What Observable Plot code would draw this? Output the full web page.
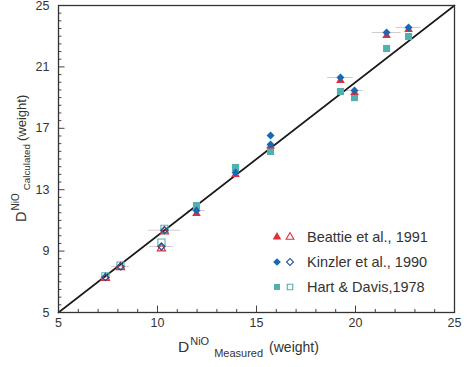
<!DOCTYPE html>
<html><head><meta charset="utf-8">
<script src="https://cdn.jsdelivr.net/npm/d3@7"></script>
<script src="https://cdn.jsdelivr.net/npm/@observablehq/plot@0.6"></script>
<style>
body{margin:0;background:#fff;font-family:"Liberation Sans",Arial,Helvetica,sans-serif}
#chart svg{display:block}
</style>
</head><body><div id="chart"></div>
<script>
// ---- Data ----
const beattieX = [7.37, 8.13, 10.35, 10.2, 11.97, 13.94, 15.71, 19.24, 19.95, 21.57, 22.68];
const beattieY = [7.25, 7.95, 10.28, 9.17, 11.45, 13.99, 15.85, 20.11, 19.33, 23.05, 23.44];
const beattieOpen = [true, true, true, true, false, false, false, false, false, false, false];

const kinzlerX = [7.37, 8.13, 10.35, 10.2, 11.97, 13.94, 15.71, 15.71, 19.24, 19.95, 21.57, 22.68];
const kinzlerY = [7.3, 8.0, 10.36, 9.3, 11.64, 14.12, 16.53, 15.94, 20.31, 19.46, 23.24, 23.57];
const kinzlerOpen = [true, true, true, true, false, false, false, false, false, false, false, false];

const hartX = [7.37, 8.13, 10.35, 10.2, 11.97, 13.94, 15.71, 19.24, 19.95, 21.57, 22.68];
const hartY = [7.36, 8.06, 10.45, 9.56, 11.97, 14.45, 15.49, 19.4, 19.0, 22.2, 22.98];
const hartOpen = [true, true, true, true, false, false, false, false, false, false, false];

// horizontal error bars on measured values
const errX = [7.37, 8.13, 10.35, 10.2, 11.97, 19.24, 19.95, 21.57, 22.68];
const errY = [7.3, 8.0, 10.36, 9.3, 11.64, 20.31, 19.46, 23.24, 23.57];
const errHalf = [0.25, 0.45, 0.8, 0.6, 0.45, 0.65, 0.45, 0.73, 0.63];

const oneToOne = [5, 25];
const xLabelTicks = [5, 10, 15, 20, 25];
const yLabelTicks = [5, 9, 13, 17, 21, 25];
const seriesNames = ["Beattie et al., 1991", "Kinzler et al., 1990", "Hart & Davis,1978"];

// ---- Styling ----
const RED = "#df2f3b", BLUE = "#1769b3", BLUE_OPEN = "#214f95", TEAL = "#4fb2ae";

const mk = (xs, ys, opens) => xs.map((x, i) => ({x, y: ys[i], open: opens[i]}));
const beattie = mk(beattieX, beattieY, beattieOpen);
const kinzler = mk(kinzlerX, kinzlerY, kinzlerOpen);
const hart = mk(hartX, hartY, hartOpen);
const errs = errX.map((x, i) => ({x, y: errY[i], e: errHalf[i]}));
const diag = oneToOne.map(v => ({x: v, y: v}));

const xMinor = d3.range(5, 25.01, 1).filter(v => !xLabelTicks.includes(v));
const yMinor = d3.range(5, 25.01, 0.5).filter(v => !yLabelTicks.includes(v));

const chart = Plot.plot({
  width: 474,
  height: 367,
  marginLeft: 58,
  marginRight: 20,
  marginTop: 5,
  marginBottom: 55,
  style: {fontFamily: "Liberation Sans, Arial, sans-serif", fontSize: "12px", color: "#333", background: "#fff"},
  x: {domain: [5, 25]},
  y: {domain: [5, 25]},
  marks: [
    // inward ticks
    Plot.ruleX(xMinor, {x: d => d, y1: 5, y2: 5.2, stroke: "#444", strokeWidth: 1}),
    Plot.ruleX(xLabelTicks, {x: d => d, y1: 5, y2: 5.42, stroke: "#444", strokeWidth: 1}),
    Plot.ruleY(yMinor, {y: d => d, x1: 5, x2: 5.17, stroke: "#444", strokeWidth: 1}),
    Plot.ruleY(yLabelTicks, {y: d => d, x1: 5, x2: 5.33, stroke: "#444", strokeWidth: 1}),
    Plot.axisX({ticks: xLabelTicks, tickSize: 0, tickPadding: 6, label: null, fontSize: 12.5, fill: "#333"}),
    Plot.axisY({ticks: yLabelTicks, tickSize: 0, tickPadding: 9, label: null, fontSize: 12.5, fill: "#333"}),
    // error bars
    Plot.ruleY(errs, {y: "y", x1: d => d.x - d.e, x2: d => d.x + d.e, stroke: "#d3cbcf", strokeWidth: 1}),
    // 1:1 line
    Plot.line(diag, {x: "x", y: "y", stroke: "#1a1a1a", strokeWidth: 1.6}),
    // Hart & Davis squares
    Plot.dot(hart.filter(d => !d.open), {x: "x", y: "y", symbol: "square", r: 4, fill: TEAL, stroke: "none"}),
    Plot.dot(hart.filter(d => d.open), {x: "x", y: "y", symbol: "square", r: 4, fill: "none", stroke: TEAL, strokeWidth: 1.1}),
    // Beattie triangles
    Plot.dot(beattie.filter(d => !d.open), {x: "x", y: "y", symbol: "triangle", r: 3.2, fill: RED, stroke: "none"}),
    Plot.dot(beattie.filter(d => d.open), {x: "x", y: "y", symbol: "triangle", r: 3.1, fill: "none", stroke: RED, strokeWidth: 1.1}),
    // Kinzler diamonds
    Plot.dot(kinzler.filter(d => !d.open), {x: "x", y: "y", symbol: "diamond2", r: 3.6, fill: BLUE, stroke: "none"}),
    Plot.dot(kinzler.filter(d => d.open), {x: "x", y: "y", symbol: "diamond2", r: 3.2, fill: "none", stroke: BLUE_OPEN, strokeWidth: 1.2}),
    Plot.frame({stroke: "#333", strokeWidth: 1.3})
  ]
});

document.getElementById("chart").appendChild(chart);

const svg = d3.select(chart);
const font = "Liberation Sans, Arial, sans-serif";

// legend
const legColors = [[RED, RED], [BLUE, BLUE_OPEN], [TEAL, TEAL]];
const legSym = [d3.symbolTriangle, d3.symbolSquare, d3.symbolSquare];
const legRot = [0, 45, 0];
const legSize = [32, 30, 36];
const legRows = [237, 262, 287];
const lg = svg.append("g");
seriesNames.forEach((name, i) => {
  const path = d3.symbol(legSym[i], legSize[i])();
  lg.append("path").attr("d", path).attr("fill", legColors[i][0])
    .attr("transform", `translate(277,${legRows[i]}) rotate(${legRot[i]})`);
  lg.append("path").attr("d", d3.symbol(legSym[i], legSize[i] - 6)()).attr("fill", "none")
    .attr("stroke", legColors[i][1]).attr("stroke-width", 1.1)
    .attr("transform", `translate(290,${legRows[i]}) rotate(${legRot[i]})`);
  lg.append("text").attr("x", 307).attr("y", legRows[i]).attr("dy", "0.36em")
    .attr("text-anchor", "start")
    .attr("font-family", font).attr("font-size", 14.5).attr("fill", "#333").text(name);
});

// x axis label: D^NiO_Measured (weight)
const xl = svg.append("text").attr("x", 178).attr("y", 352).attr("text-anchor", "start")
  .attr("font-family", font).attr("fill", "#333");
xl.append("tspan").attr("font-size", 15.5).text("D");
xl.append("tspan").attr("font-size", 11).attr("dy", -7).attr("dx", 1).text("NiO");
xl.append("tspan").attr("font-size", 11).attr("dy", 12).attr("dx", 5).text("Measured");
xl.append("tspan").attr("font-size", 14).attr("dy", -5).attr("dx", 6).text("(weight)");

// y axis label: D^NiO_Calculated (weight)
const yl = svg.append("text").attr("transform", "translate(26,222) rotate(-90)").attr("text-anchor", "start")
  .attr("font-family", font).attr("fill", "#333");
yl.append("tspan").attr("font-size", 14.5).text("D");
yl.append("tspan").attr("font-size", 10).attr("dy", -7).attr("dx", 1).text("NiO");
yl.append("tspan").attr("font-size", 9.8).attr("dy", 11).attr("dx", 3).text("Calculated");
yl.append("tspan").attr("font-size", 13).attr("dy", -4).attr("dx", 3).text("(weight)");
</script>
</body></html>
